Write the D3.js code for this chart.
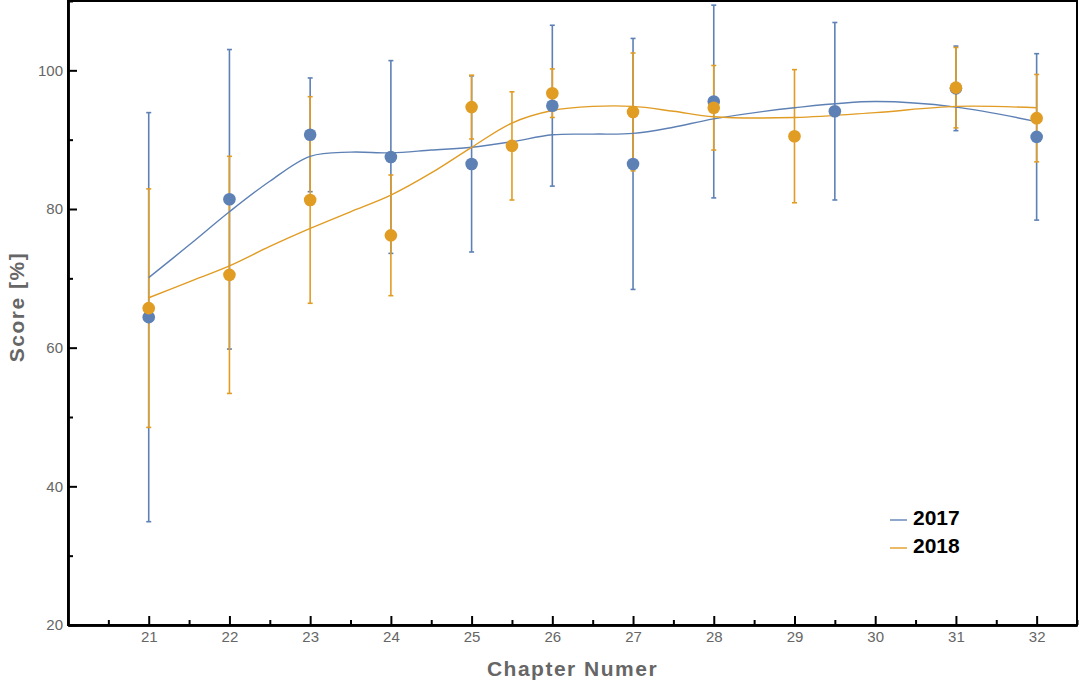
<!DOCTYPE html>
<html><head><meta charset="utf-8">
<script src="https://cdn.jsdelivr.net/npm/d3@7"></script>
<style>
html,body{margin:0;padding:0;background:#fff;}
svg{display:block;}
</style></head>
<body>
<svg id="chart" width="1079" height="685"></svg>
<script>
// ---- data ----
const seriesNames = ["2017", "2018"];
const chapters2017 = [21, 22, 23, 24, 25, 26, 27, 28, 29.5, 31, 32];
const score2017   = [64.4, 81.4, 90.7, 87.5, 86.5, 94.9, 86.5, 95.5, 94.1, 97.4, 90.4];
const err2017     = [29.5, 21.6, 8.2, 13.9, 12.7, 11.6, 18.1, 13.9, 12.8, 6.1, 12.0];
const chapters2018 = [21, 22, 23, 24, 25, 25.5, 26, 27, 28, 29, 31, 32];
const score2018   = [65.7, 70.5, 81.3, 76.2, 94.7, 89.1, 96.7, 94.0, 94.6, 90.5, 97.5, 93.1];
const err2018     = [17.2, 17.1, 14.9, 8.7, 4.6, 7.8, 3.5, 8.5, 6.1, 9.6, 5.8, 6.3];
const fitX    = [21, 21.5, 22, 22.5, 23, 23.5, 24, 24.5, 25, 25.5, 26, 26.5, 27, 27.5, 28, 29, 30, 31, 32];
const fit2017 = [70.1, 74.8, 79.6, 84.0, 87.6, 88.2, 88.1, 88.5, 88.9, 89.7, 90.7, 90.8, 90.9, 91.8, 93.0, 94.6, 95.5, 94.7, 92.6];
const fit2018 = [67.2, 69.5, 71.8, 74.6, 77.2, 79.6, 82.0, 85.2, 88.9, 92.4, 94.2, 94.8, 94.8, 94.1, 93.3, 93.2, 93.9, 94.8, 94.6];
const xTicks = [21, 22, 23, 24, 25, 26, 27, 28, 29, 30, 31, 32];
const xMinorTicks = [20.5, 21.5, 22.5, 23.5, 24.5, 25.5, 26.5, 27.5, 28.5, 29.5, 30.5, 31.5, 32.5];
const yTicks = [20, 40, 60, 80, 100];
const yMinorTicks = [30, 50, 70, 90, 110];
const xTitle = "Chapter Numer";
const yTitle = "Score [%]";

// ---- layout ----
const W = 1079, H = 685;
const m = {left: 68, top: 1, right: 2, bottom: 60};
const colors = ["#5E81B5", "#E19C24"];
const svg = d3.select("#chart");
const x = d3.scaleLinear().domain([20, 32.5]).range([m.left, W - m.right]);
const y = d3.scaleLinear().domain([20, 110]).range([H - m.bottom, m.top]);

const series = [
  {name: seriesNames[0], xs: chapters2017, ys: score2017, es: err2017, fit: fit2017, color: colors[0]},
  {name: seriesNames[1], xs: chapters2018, ys: score2018, es: err2018, fit: fit2018, color: colors[1]}
];

// error bars
series.forEach(s => {
  const g = svg.append("g").attr("stroke", s.color).attr("stroke-width", 1.6);
  s.xs.forEach((cx, i) => {
    const hi = y(s.ys[i] + s.es[i]), lo = y(s.ys[i] - s.es[i]), px = x(cx);
    g.append("line").attr("x1", px).attr("x2", px).attr("y1", hi).attr("y2", lo);
    g.append("line").attr("x1", px - 2.5).attr("x2", px + 2.5).attr("y1", hi).attr("y2", hi);
    g.append("line").attr("x1", px - 2.5).attr("x2", px + 2.5).attr("y1", lo).attr("y2", lo);
  });
});

// fitted curves
const line = d3.line().x(d => x(d[0])).y(d => y(d[1])).curve(d3.curveCatmullRom.alpha(0.5));
series.forEach(s => {
  svg.append("path").datum(fitX.map((fx, i) => [fx, s.fit[i]]))
    .attr("fill", "none").attr("stroke", s.color).attr("stroke-width", 1.4).attr("d", line);
});

// points
series.forEach(s => {
  svg.append("g").selectAll("circle").data(s.xs.map((cx, i) => [cx, s.ys[i]])).join("circle")
    .attr("cx", d => x(d[0])).attr("cy", d => y(d[1])).attr("r", 6.3).attr("fill", s.color);
});

// frame
svg.append("rect").attr("x", m.left).attr("y", m.top).attr("width", W - m.left - m.right)
  .attr("height", H - m.top - m.bottom).attr("fill", "none").attr("stroke", "#000").attr("stroke-width", 2);

// axes
const fontFam = "'Liberation Sans', Arial, sans-serif";
const xAxis = svg.append("g").attr("transform", `translate(0,${H - m.bottom})`)
  .call(d3.axisBottom(x).tickValues(xTicks).tickFormat(d3.format("d")).tickSizeInner(-9).tickSizeOuter(0).tickPadding(6));
const xMinor = svg.append("g").attr("transform", `translate(0,${H - m.bottom})`)
  .call(d3.axisBottom(x).tickValues(xMinorTicks).tickFormat("").tickSizeInner(-5).tickSizeOuter(0));
const yAxis = svg.append("g").attr("transform", `translate(${m.left},0)`)
  .call(d3.axisLeft(y).tickValues(yTicks).tickFormat(d3.format("d")).tickSizeInner(-9).tickSizeOuter(0).tickPadding(5));
const yMinor = svg.append("g").attr("transform", `translate(${m.left},0)`)
  .call(d3.axisLeft(y).tickValues(yMinorTicks).tickFormat("").tickSizeInner(-5).tickSizeOuter(0));
[xAxis, xMinor, yAxis, yMinor].forEach(a => {
  a.select(".domain").attr("stroke", "#000").attr("stroke-width", 2.5);
  a.selectAll(".tick line").attr("stroke", "#000").attr("stroke-width", 2);
  a.selectAll("text").attr("font-family", fontFam).attr("font-size", 15).attr("fill", "#666");
});

// axis titles
svg.append("text").attr("x", 572.5).attr("y", 676)
  .attr("text-anchor", "middle").attr("font-family", fontFam).attr("font-weight", "bold")
  .attr("font-size", 21).attr("letter-spacing", 1.5).attr("fill", "#666").text(xTitle);
svg.append("text").attr("transform", `translate(23.5,307) rotate(-90)`)
  .attr("text-anchor", "middle").attr("font-family", fontFam).attr("font-weight", "bold")
  .attr("font-size", 21).attr("letter-spacing", 1.5).attr("fill", "#666").text(yTitle);

// legend
series.forEach((s, i) => {
  const ly = 520 + i * 28;
  svg.append("line").attr("x1", 890).attr("x2", 907).attr("y1", ly).attr("y2", ly)
    .attr("stroke", s.color).attr("stroke-width", 1.4);
  svg.append("text").attr("x", 913).attr("y", ly + 5).attr("font-family", fontFam)
    .attr("font-weight", "bold").attr("font-size", 21).attr("fill", "#000").text(s.name);
});
</script>
</body></html>
